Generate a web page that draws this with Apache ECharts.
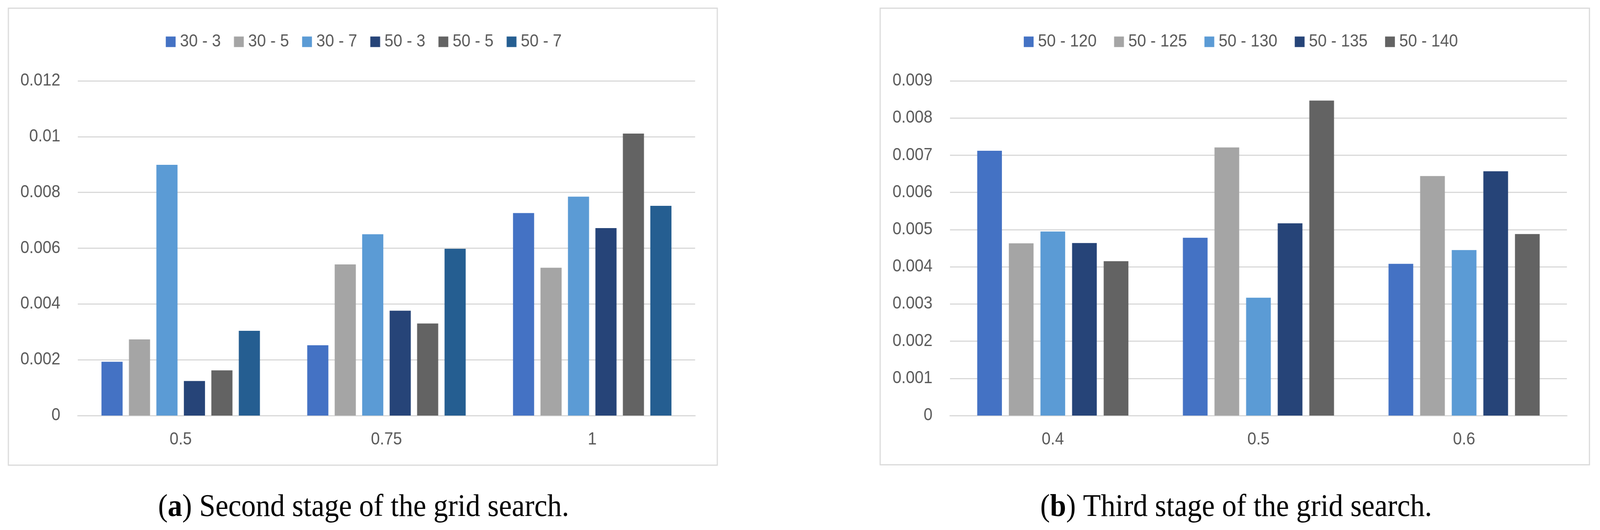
<!DOCTYPE html>
<html>
<head>
<meta charset="utf-8">
<script src="https://cdn.jsdelivr.net/npm/echarts@6/dist/echarts.min.js"></script>
<style>
  html, body { margin: 0; padding: 0; background: #fff; overflow: hidden; }
  #chart { width: 4401px; height: 1357px; transform-origin: 0 0; }
</style>
</head>
<body>
<div id="chart"></div>
<script>
// ---- Data: panel (a) second stage ----
const catsA = ['0.5', '0.75', '1'];
const namesA = ['30 - 3', '30 - 5', '30 - 7', '50 - 3', '50 - 5', '50 - 7'];
const s30_3 = [0.00193, 0.00252, 0.00726];
const s30_5 = [0.00273, 0.00542, 0.00530];
const s30_7 = [0.00899, 0.00650, 0.00785];
const s50_3 = [0.00124, 0.00376, 0.00672];
const s50_5 = [0.00162, 0.00330, 0.01011];
const s50_7 = [0.00304, 0.00598, 0.00752];
const valuesA = [s30_3, s30_5, s30_7, s50_3, s50_5, s50_7];
const yTicksA = { min: 0, max: 0.012, interval: 0.002 };

// ---- Data: panel (b) third stage ----
const catsB = ['0.4', '0.5', '0.6'];
const namesB = ['50 - 120', '50 - 125', '50 - 130', '50 - 135', '50 - 140'];
const s50_120 = [0.00712, 0.00478, 0.00408];
const s50_125 = [0.00463, 0.00721, 0.00644];
const s50_130 = [0.00495, 0.00317, 0.00445];
const s50_135 = [0.00464, 0.00517, 0.00657];
const s50_140 = [0.00415, 0.00847, 0.00488];
const valuesB = [s50_120, s50_125, s50_130, s50_135, s50_140];
const yTicksB = { min: 0, max: 0.009, interval: 0.001 };

const colorsA = ['#4472C4', '#A5A5A5', '#5B9BD5', '#264478', '#636363', '#255E91'];
const colorsB = ['#4472C4', '#A5A5A5', '#5B9BD5', '#264478', '#636363'];

const txt = '#595959';
const gridCol = '#d9d9d9';
const font = 'Liberation Sans, Arial, sans-serif';

// Fit the 4401x1357 design into whatever viewport the browser really has.
const el = document.getElementById('chart');
const sx = (window.innerWidth || 4401) / 4401;
const sy = (window.innerHeight || 1357) / 1357;
el.style.transform = 'scale(' + sx + ',' + sy + ')';

function fmt(v) { return v === 0 ? '0' : String(parseFloat(v.toFixed(4))); }

function xAxis(idx, cats) {
  return {
    type: 'category', gridIndex: idx, data: cats,
    axisLine: { show: true, lineStyle: { color: gridCol, width: 3 } },
    axisTick: { show: false },
    axisLabel: { color: txt, fontSize: 44, fontFamily: font, margin: 40, lineHeight: 44 }
  };
}
function yAxis(idx, t) {
  return {
    type: 'value', gridIndex: idx, min: t.min, max: t.max, interval: t.interval,
    axisLine: { show: false }, axisTick: { show: false },
    splitLine: { lineStyle: { color: gridCol, width: 3 } },
    axisLabel: { color: txt, fontSize: 44, fontFamily: font, margin: 48, formatter: fmt }
  };
}

const series = [];
namesA.forEach((n, i) => series.push({
  name: n, type: 'bar', xAxisIndex: 0, yAxisIndex: 0, data: valuesA[i],
  itemStyle: { color: colorsA[i] }, barGap: '30%', barCategoryGap: '23%'
}));
namesB.forEach((n, i) => series.push({
  name: n, type: 'bar', xAxisIndex: 1, yAxisIndex: 1, data: valuesB[i],
  itemStyle: { color: colorsB[i] }, barGap: '28%', barCategoryGap: '26.5%'
}));

const legendCommon = {
  icon: 'rect', itemWidth: 27, itemHeight: 27, top: 80,
  textStyle: { color: txt, fontSize: 44, fontFamily: font, padding: [0, 0, 0, 7] },
  selectedMode: false
};

const capRich = {
  n: { fontSize: 80, fontFamily: 'Liberation Serif, serif', fill: '#000' },
  b: { fontSize: 80, fontFamily: 'Liberation Serif, serif', fontWeight: 'bold', fill: '#000' }
};

const option = {
  backgroundColor: '#fff',
  animation: false,
  grid: [
    { left: 214, top: 207, width: 1698, height: 857 },
    { left: 2613, top: 207, width: 1697, height: 857 }
  ],
  legend: [
    Object.assign({}, legendCommon, { left: 451, itemGap: 36, data: namesA }),
    Object.assign({}, legendCommon, { left: 2811, itemGap: 48, data: namesB })
  ],
  xAxis: [xAxis(0, catsA), xAxis(1, catsB)],
  yAxis: [yAxis(0, yTicksA), yAxis(1, yTicksB)],
  series: series,
  graphic: [
    { type: 'rect', z: -1, shape: { x: 23, y: 21, width: 1950, height: 1170 },
      style: { fill: 'none', stroke: gridCol, lineWidth: 3 } },
    { type: 'rect', z: -1, shape: { x: 2421, y: 21, width: 1951, height: 1169 },
      style: { fill: 'none', stroke: gridCol, lineWidth: 3 } },
    { type: 'text', x: 1000, y: 1300,
      style: { text: '{n|(}{b|a}{n|) Second stage of the grid search.}', align: 'center', verticalAlign: 'middle', rich: capRich } },
    { type: 'text', x: 3400, y: 1300,
      style: { text: '{n|(}{b|b}{n|) Third stage of the grid search.}', align: 'center', verticalAlign: 'middle', rich: capRich } }
  ]
};

const chart = echarts.init(el, null, { renderer: 'canvas', width: 4401, height: 1357 });
chart.setOption(option);
</script>
</body>
</html>
